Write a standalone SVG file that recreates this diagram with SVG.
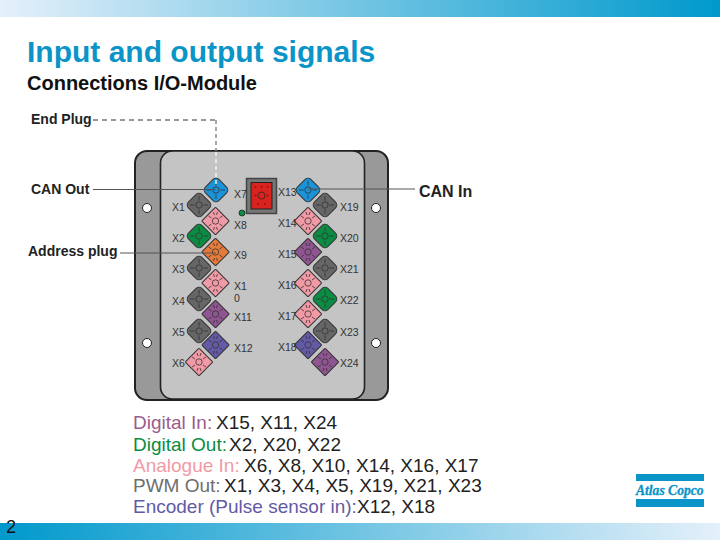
<svg xmlns="http://www.w3.org/2000/svg" width="720" height="540" viewBox="0 0 720 540">
<style>
text{font-family:"Liberation Sans",Arial,sans-serif}
.lbl{font-size:10.500px;fill:#333}
.call{font-size:14px;font-weight:bold;fill:#222}
.key{font-size:19px}
.val{fill:#222}
.wire{fill:none;stroke:#555;stroke-width:1.200}
.det{fill:none;stroke:#333;stroke-width:.8}
.dot{fill:#8a1512}
.logotxt{font-family:"Liberation Serif",serif;font-style:italic;font-weight:bold;font-size:13.600px;fill:#0a94c8;stroke:#0a94c8;stroke-width:.3}
.grey{fill:#666}.pink{fill:#f19aa5}.green{fill:#0a8c42}.blue{fill:#1a93d8}.orange{fill:#e57b3a}.purple{fill:#8f5590}.indigo{fill:#635aa5}
</style>
<defs>
<linearGradient id="gt"><stop offset="0" stop-color="#e4f0fa"/><stop offset="1" stop-color="#0099cc"/></linearGradient>
<linearGradient id="gb"><stop offset="0" stop-color="#0099cc"/><stop offset="1" stop-color="#e4f0fa"/></linearGradient>
<g id="r">
<rect x="-9.500" y="-9.500" width="19" height="19" rx="4" transform="rotate(45)" stroke="#333" stroke-width="1"/>
<circle r="3.200" class="det"/>
<path class="det" d="M0-9V-4.500M0 9V4.500M-9 0H-4.500M9 0H4.500"/>
</g>
<g id="s">
<rect x="-9.800" y="-9.800" width="19.600" height="19.600" rx="1" transform="rotate(45)" stroke="#333" stroke-width="1"/>
<circle r="3.200" class="det"/>
<path class="det" d="M-2-9-1-6M2-9 1-6M-7-5-4-3M7-5 4-3M-7 5-4 3M7 5 4 3M-2 9-1 6M2 9 1 6"/>
</g>
</defs>
<rect width="720" height="540" fill="#fff"/>
<rect width="720" height="17" fill="url(#gt)"/>
<rect y="523" width="720" height="17" fill="url(#gb)"/>
<text x="27" y="62" font-size="30" font-weight="bold" fill="#0a94c8">Input and output signals</text>
<text x="27" y="90" font-size="20" font-weight="bold" fill="#111">Connections I/O-Module</text>
<g id="plate">
<rect x="135" y="151" width="253" height="249" rx="12" fill="#999" stroke="#222" stroke-width="2"/>
<rect x="160.500" y="151" width="204" height="248" rx="12" fill="#c4c4c4" stroke="#222" stroke-width="1.600"/>
<circle cx="147" cy="208" r="4.500" fill="#fff" stroke="#222"/>
<circle cx="147" cy="343" r="4.500" fill="#fff" stroke="#222"/>
<circle cx="376" cy="208" r="4.500" fill="#fff" stroke="#222"/>
<circle cx="376" cy="343" r="4.500" fill="#fff" stroke="#222"/>
</g>
<g id="display">
<rect x="246.500" y="178.500" width="30" height="35" fill="#777" stroke="#444" stroke-width="1.500"/>
<rect x="251" y="182.500" width="21" height="26.500" fill="#d8231f" stroke="#222"/>
<circle cx="261.500" cy="195.500" r="3.500" fill="none" stroke="#522"/>
<circle class="dot" cx="255.500" cy="187" r=".9"/><circle class="dot" cx="261.500" cy="187" r=".9"/><circle class="dot" cx="267.500" cy="187" r=".9"/>
<circle class="dot" cx="255.500" cy="195.500" r=".9"/><circle class="dot" cx="267.500" cy="195.500" r=".9"/>
<circle class="dot" cx="258" cy="204" r=".9"/><circle class="dot" cx="265" cy="204" r=".9"/>
</g>
<circle id="led" cx="242" cy="213" r="3" fill="#0a8c42" stroke="#222" stroke-width=".8"/>
<g id="X7"><use href="#r" x="216" y="190" class="blue"/><text class="lbl" x="234" y="198">X7</text></g>
<g id="X1"><use href="#r" x="199" y="205" class="grey"/><text class="lbl" x="172" y="211">X1</text></g>
<g id="X8"><use href="#s" x="215.500" y="221" class="pink"/><text class="lbl" x="234" y="229">X8</text></g>
<g id="X2"><use href="#r" x="199" y="236" class="green"/><text class="lbl" x="172" y="242">X2</text></g>
<g id="X9"><use href="#s" x="215.500" y="252" class="orange"/><text class="lbl" x="234" y="259">X9</text></g>
<g id="X3"><use href="#r" x="199" y="268" class="grey"/><text class="lbl" x="172" y="273">X3</text></g>
<g id="X10"><use href="#s" x="215.500" y="283" class="pink"/><text class="lbl"><tspan x="234" y="290">X1</tspan><tspan x="234" y="302">0</tspan></text></g>
<g id="X4"><use href="#r" x="199" y="299" class="grey"/><text class="lbl" x="172" y="305">X4</text></g>
<g id="X11"><use href="#s" x="215.500" y="314" class="purple"/><text class="lbl" x="234" y="321">X11</text></g>
<g id="X5"><use href="#r" x="199" y="331" class="grey"/><text class="lbl" x="172" y="336">X5</text></g>
<g id="X12"><use href="#s" x="215.500" y="345" class="indigo"/><text class="lbl" x="234" y="352">X12</text></g>
<g id="X6"><use href="#s" x="199" y="362" class="pink"/><text class="lbl" x="172" y="367">X6</text></g>
<g id="X13"><use href="#r" x="308" y="190" class="blue"/><text class="lbl" x="278" y="196">X13</text></g>
<g id="X19"><use href="#r" x="325" y="205" class="grey"/><text class="lbl" x="340" y="211">X19</text></g>
<g id="X14"><use href="#s" x="308" y="221" class="pink"/><text class="lbl" x="278" y="227">X14</text></g>
<g id="X20"><use href="#r" x="325" y="236" class="green"/><text class="lbl" x="340" y="242">X20</text></g>
<g id="X15"><use href="#s" x="308" y="252" class="purple"/><text class="lbl" x="278" y="258">X15</text></g>
<g id="X21"><use href="#r" x="325" y="268" class="grey"/><text class="lbl" x="340" y="273">X21</text></g>
<g id="X16"><use href="#s" x="308" y="283" class="pink"/><text class="lbl" x="278" y="289">X16</text></g>
<g id="X22"><use href="#r" x="325" y="299" class="green"/><text class="lbl" x="340" y="304">X22</text></g>
<g id="X17"><use href="#s" x="308" y="314" class="pink"/><text class="lbl" x="278" y="320">X17</text></g>
<g id="X23"><use href="#r" x="325" y="331" class="grey"/><text class="lbl" x="340" y="336">X23</text></g>
<g id="X18"><use href="#s" x="308" y="345" class="indigo"/><text class="lbl" x="278" y="351">X18</text></g>
<g id="X24"><use href="#s" x="325" y="362" class="purple"/><text class="lbl" x="340" y="367">X24</text></g>
<g id="connectors">
<path fill="none" stroke="#333" d="M93 120H216" stroke-dasharray="5 4"/>
<path d="M216 120V151" fill="none" stroke="#888" stroke-width="1.500" stroke-dasharray="4 3"/>
<path d="M216 152V184" fill="none" stroke="#f2f2f2" stroke-width="1.500" stroke-dasharray="4 3"/>
<path class="wire" d="M93 189.500H216"/>
<path class="wire" d="M120 253H216"/>
<path class="wire" d="M308 189H415"/>
</g>
<text class="call" x="31" y="124">End Plug</text>
<text class="call" x="31" y="194">CAN Out</text>
<text class="call" x="28" y="256">Address plug</text>
<text x="419" y="197" font-size="16" font-weight="bold" fill="#222">CAN In</text>
<g id="legend" class="key">
<text x="133" y="429" fill="#9b5c8c">Digital In:</text><text class="val" x="216" y="429">X15, X11, X24</text>
<text x="133" y="451" fill="#0a8c42">Digital Out:</text><text class="val" x="229" y="451">X2, X20, X22</text>
<text x="133" y="472" fill="#f19aa5">Analogue In:</text><text class="val" x="244" y="472">X6, X8, X10, X14, X16, X17</text>
<text x="133" y="492" fill="#6e6e6e">PWM Out:</text><text class="val" x="224" y="492">X1, X3, X4, X5, X19, X21, X23</text>
<text x="133" y="513" fill="#635aa5">Encoder (Pulse sensor in):</text><text class="val" x="357" y="513">X12, X18</text>
</g>
<g id="logo">
<rect x="636" y="474" width="68" height="7" fill="#0a94c8"/>
<rect x="636" y="499" width="68" height="8" fill="#0a94c8"/>
<text class="logotxt" x="636" y="495">Atlas Copco</text>
</g>
<text x="6" y="533" font-size="18" fill="#111">2</text>
</svg>
